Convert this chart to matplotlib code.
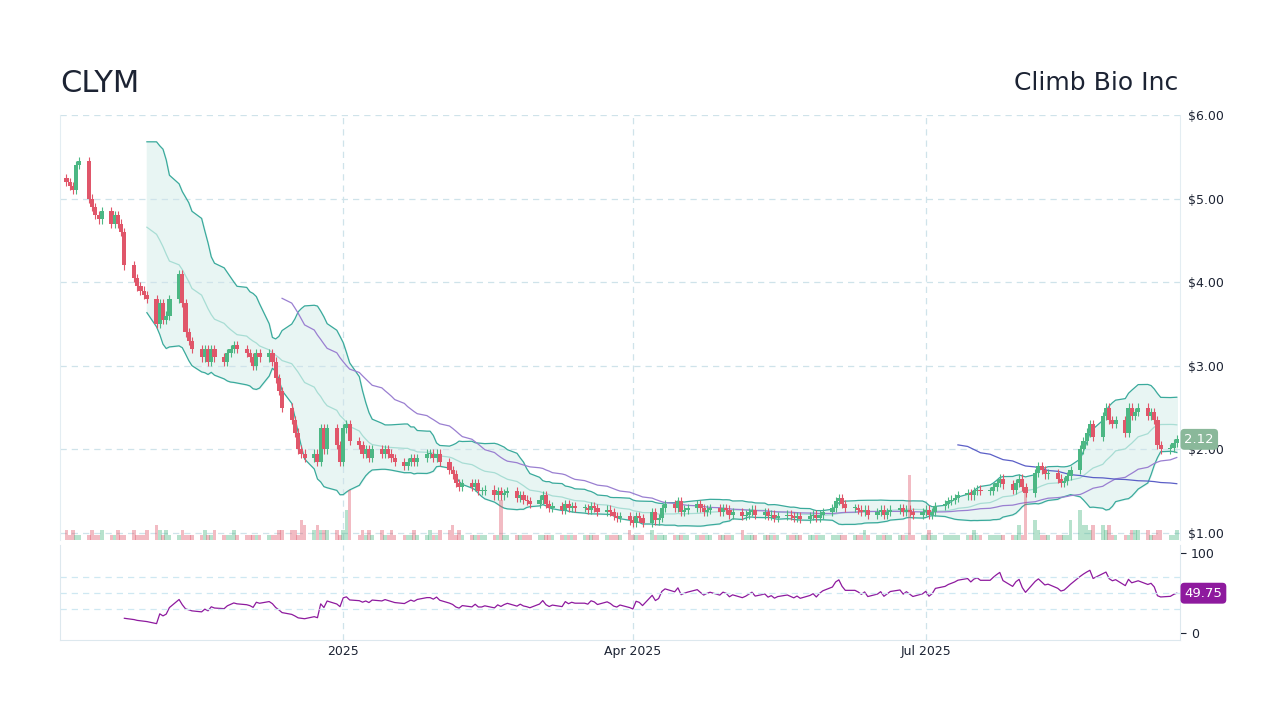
import numpy as np
import pandas as pd
import matplotlib
matplotlib.use("Agg")
from matplotlib import pyplot as plt
import matplotlib.dates as mdates

plt.rcParams['font.family'] = ['DejaVu Sans']

TICKER = "CLYM"
NAME = "Climb Bio Inc"

# daily closes, one row per week (Mon..Fri)
close = np.array([
    5.20, 5.15, 5.10, 5.40, 5.45,
    5.00, 4.90, 4.80, 4.75, 4.85,
    4.70, 4.80, 4.70, 4.60, 4.20,
    4.05, 3.95, 3.90, 3.85, 3.80,
    3.50, 3.75, 3.55, 3.60, 3.80,
    4.10, 3.75, 3.40, 3.30, 3.20,
    3.10, 3.20, 3.05, 3.20, 3.10,
    3.05, 3.15, 3.20, 3.25, 3.20,
    3.15, 3.10, 3.00, 3.15, 3.10,
    3.15, 3.05, 2.85, 2.70, 2.50,
    2.35, 2.20, 2.00, 1.95, 1.90,
    1.95, 1.85, 2.25, 2.00, 2.25,
    2.05, 1.85, 2.25, 2.30, 2.10,
    2.05, 1.95, 2.00, 1.90, 2.00,
    1.95, 2.00, 1.95, 1.90, 1.85,
    1.80, 1.85, 1.90, 1.85, 1.90,
    1.95, 1.95, 1.90, 1.95, 1.85,
    1.75, 1.70, 1.60, 1.55, 1.60,
    1.55, 1.60, 1.50, 1.50, 1.52,
    1.45, 1.50, 1.45, 1.48, 1.50,
    1.42, 1.45, 1.40, 1.38, 1.35,
    1.40, 1.45, 1.35, 1.30, 1.32,
    1.28, 1.35, 1.30, 1.32, 1.30,
    1.30, 1.28, 1.32, 1.30, 1.25,
    1.28, 1.25, 1.20, 1.18, 1.20,
    1.15, 1.12, 1.20, 1.18, 1.12,
    1.25, 1.15, 1.18, 1.30, 1.35,
    1.30, 1.38, 1.25, 1.28, 1.30,
    1.35, 1.30, 1.25, 1.28, 1.30,
    1.25, 1.30, 1.28, 1.22, 1.25,
    1.20, 1.22, 1.25, 1.28, 1.22,
    1.25, 1.20, 1.22, 1.18, 1.20,
    1.22, 1.20, 1.18, 1.20, 1.17,
    1.20, 1.22, 1.18, 1.22, 1.25,
    1.30, 1.38, 1.42, 1.35, 1.30,
    1.30, 1.28, 1.25, 1.28, 1.22,
    1.25, 1.28, 1.22, 1.25, 1.28,
    1.30, 1.25, 1.28, 1.25, 1.22,
    1.25, 1.28, 1.22, 1.25, 1.32,
    1.35, 1.38, 1.40, 1.42, 1.45,
    1.48, 1.45, 1.50, 1.52, 1.50,
    1.50, 1.55, 1.60, 1.65, 1.58,
    1.52, 1.60, 1.65, 1.55, 1.48,
    1.72, 1.80, 1.75, 1.70, 1.72,
    1.65, 1.60, 1.62, 1.68, 1.75,
    2.00, 2.10, 2.20, 2.30, 2.15,
    2.40, 2.50, 2.35, 2.30, 2.35,
    2.20, 2.50, 2.40, 2.45, 2.50,
    2.40, 2.45, 2.35, 2.05, 2.00,
    2.02, 2.08, 2.12,
])

# relative daily volume
volume = np.array([
    2, 1, 2, 1, 1,   1, 2, 1, 1, 2,   1, 1, 2, 1, 1,   2, 1, 1, 1, 2,
    3, 2, 1, 2, 1,   1, 2, 1, 1, 1,   1, 2, 1, 1, 2,   1, 1, 1, 2, 1,
    1, 1, 1, 1, 1,   1, 1, 1, 2, 2,   2, 2, 1, 4, 3,   2, 3, 2, 2, 2,
    2, 1, 2, 6, 10,  1, 2, 1, 2, 1,   2, 1, 1, 2, 1,   1, 1, 1, 2, 1,
    1, 2, 1, 1, 2,   2, 3, 1, 2, 1,   1, 1, 1, 1, 1,   1, 1, 8, 1, 1,
    1, 1, 1, 1, 1,   1, 1, 1, 1, 1,   1, 1, 1, 1, 1,   1, 1, 1, 1, 1,
    1, 1, 1, 1, 1,   2, 1, 1, 1, 1,   2, 1, 1, 1, 1,   1, 1, 1, 1, 1,
    1, 1, 1, 1, 1,   1, 1, 1, 1, 1,   2, 1, 1, 1, 1,   1, 1, 1, 1, 1,
    1, 1, 1, 1, 1,   1, 1, 1, 1, 1,   1, 1, 1, 1, 1,   1, 1, 1, 2, 1,
    1, 1, 1, 1, 1,   1, 1, 1,
    13,
    1, 1, 1, 2, 1,   1, 1, 1, 1, 1,   1, 1, 1, 2, 1,   1, 1, 1, 1, 1,
    1, 1, 1, 3, 1,
    10, 4, 2,
    1, 1, 1, 1, 1,   1, 1, 4, 6, 3,   3, 2, 3, 3, 2,   3, 1, 1, 1, 1,
    2, 2, 2, 2, 1,   1, 2, 2, 1, 1,   2,
])

dates = pd.bdate_range("2024-10-07", periods=len(close))
opens = np.concatenate([[5.25], close[:-1]])
highs = np.maximum(opens, close) + 0.05
lows = np.minimum(opens, close) - 0.05

s = pd.Series(close, index=dates)
mid = s.rolling(20).mean()
sd = s.rolling(20).std(ddof=0)
upper, lower = mid + 2 * sd, mid - 2 * sd
sma50 = s.rolling(50).mean()
sma200 = s.rolling(200).mean()
delta = s.diff()
gain = delta.clip(lower=0).ewm(alpha=1 / 14, adjust=False).mean()
loss = (-delta.clip(upper=0)).ewm(alpha=1 / 14, adjust=False).mean()
rsi = 100 - 100 / (1 + gain / loss)
rsi.iloc[:14] = np.nan

UP, DOWN = "#4cb784", "#e0566a"
GRID = "#cfe3ea"
TXT = "#1c2333"

fig = plt.figure(figsize=(12.8, 7.2), dpi=100)
ax = fig.add_axes([60 / 1280, 1 - 540 / 720, 1120 / 1280, 425 / 720])
axr = fig.add_axes([60 / 1280, 1 - 640 / 720, 1120 / 1280, 95 / 720], sharex=ax)

# volume
axv = ax.twinx()
vcol = [UP if c >= o else DOWN for o, c in zip(opens, close)]
axv.bar(dates, volume, width=1.1, color=vcol, alpha=0.4)
axv.set_ylim(0, 85)
axv.axis("off")

# bollinger + sma
ax.fill_between(dates, lower, upper, color="#e8f5f3", zorder=1)
ax.plot(dates, upper, color="#3aaa9c", lw=0.9, zorder=2)
ax.plot(dates, lower, color="#3aaa9c", lw=0.9, zorder=2)
ax.plot(dates, mid, color="#a8ddd4", lw=0.9, zorder=2)
ax.plot(dates, sma50, color="#9a7fd1", lw=0.9, zorder=2)
ax.plot(dates, sma200, color="#5b5fc7", lw=0.9, zorder=2)

# candles
for d, o, h, l, c in zip(dates, opens, highs, lows, close):
    col = UP if c >= o else DOWN
    ax.vlines(d, l, h, color=col, lw=0.8, zorder=3)
    ax.bar(d, max(abs(c - o), 0.01), bottom=min(o, c), width=1.3, color=col, zorder=3)

ax.set_ylim(0.916, 6.0)
ax.set_xlim(pd.Timestamp("2024-10-05"), pd.Timestamp("2025-09-18"))
ax.set_yticks([1, 2, 3, 4, 5, 6])
ax.set_yticklabels([f"${v:.2f}" for v in [1, 2, 3, 4, 5, 6]])
ax.yaxis.tick_right()
ax.tick_params(axis="y", length=0, labelsize=9, colors=TXT, pad=6)
ax.tick_params(axis="x", length=0, labelbottom=False)
ax.set_xticks(pd.to_datetime(["2025-01-01", "2025-04-01", "2025-07-01"]))
ax.grid(True, color=GRID, ls=(0, (5, 4)), lw=0.9)
for sp in ["top", "bottom"]:
    ax.spines[sp].set_visible(False)
for sp in ["left", "right"]:
    ax.spines[sp].set_color("#e3edf2")
ax.text(1.004, (close[-1] - 0.916) / (6 - 0.916), f"{close[-1]:.2f}", transform=ax.transAxes,
        fontsize=9.5, color="white", va="center", ha="left",
        bbox=dict(boxstyle="round,pad=0.3", fc="#8ab89a", ec="none"))

# RSI
axr.plot(dates, rsi, color="#8e1a9e", lw=0.9)
axr.set_ylim(-8.75, 110)
axr.set_yticks([0, 100])
for v in (30, 50, 70):
    axr.axhline(v, color="#cfe8f2", ls=(0, (5, 4)), lw=0.9)
axr.yaxis.tick_right()
axr.tick_params(axis="y", length=4, labelsize=9, colors=TXT, pad=4)
axr.tick_params(axis="x", length=0, labelsize=9, colors=TXT)
axr.xaxis.set_major_formatter(plt.FuncFormatter(
    lambda v, p: (lambda d: d.strftime("%Y") if d.month == 1 else d.strftime("%b %Y"))(mdates.num2date(v))))
axr.grid(True, axis="x", color=GRID, ls=(0, (5, 4)), lw=0.9)
axr.spines["top"].set_visible(False)
for sp in ["left", "right", "bottom"]:
    axr.spines[sp].set_color("#dde8ee")
axr.text(1.004, (rsi.iloc[-1] + 8.75) / 118.75, f"{rsi.iloc[-1]:.2f}", transform=axr.transAxes,
         fontsize=9.5, color="white", va="center", ha="left",
         bbox=dict(boxstyle="round,pad=0.3", fc="#8e1a9e", ec="none"))

fig.text(60 / 1280, 1 - 83 / 720, TICKER, fontsize=22, color=TXT, va="center")
fig.text(1178 / 1280, 1 - 83 / 720, NAME, fontsize=18, color=TXT, va="center", ha="right")

fig.savefig("out.png", dpi=100)
